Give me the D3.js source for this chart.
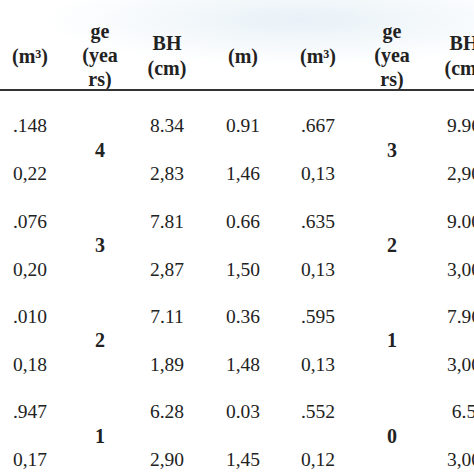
<!DOCTYPE html>
<html><head><meta charset="utf-8">
<script src="https://cdn.jsdelivr.net/npm/d3@7"></script>
<style>body{margin:0;background:#fff}</style></head>
<body><script>
const headers=[["(m³)"],["ge","(yea","rs)"],["BH","(cm)"],["(m)"],["(m³)"],["ge","(yea","rs)"],["BH","(cm)"]];
const colX=[30,100,167,243,318,392,464];
const rowsTop=[[".148","","8.34","0.91",".667","","9.96"],[".076","","7.81","0.66",".635","","9.00"],[".010","","7.11","0.36",".595","","7.96"],[".947","","6.28","0.03",".552","","6.5"]];
const rowsBot=[["0,22","","2,83","1,46","0,13","","2,90"],["0,20","","2,87","1,50","0,13","","3,00"],["0,18","","1,89","1,48","0,13","","3,00"],["0,17","","2,90","1,45","0,12","","3,00"]];
const agesL=["4","3","2","1"], agesR=["3","2","1","0"];
const W=474,H=474;
const svg=d3.select("body").append("svg").attr("width",W).attr("height",H);
const defs=svg.append("defs");
const g=defs.append("radialGradient").attr("id","sw").attr("cx","0.5").attr("cy","0.5").attr("r","0.5");
g.append("stop").attr("offset","0").attr("stop-color","#e8f1f7");
g.append("stop").attr("offset","1").attr("stop-color","#ffffff");
svg.append("ellipse").attr("cx",300).attr("cy",20).attr("rx",260).attr("ry",45).attr("fill","url(#sw)");
const y=d3.scaleLinear().domain([0,3]).range([128,414]);
const font="'Liberation Serif','Times New Roman',serif";
headers.forEach((h,i)=>{
  const n=h.length; const start = n===3? 33 : n===2? 45 : 58;
  h.forEach((t,j)=>svg.append("text").attr("x",colX[i]).attr("y",start+j*(n===3?24:25)).attr("text-anchor","middle")
    .attr("dominant-baseline","middle").attr("font-family",font).attr("font-weight","bold").attr("font-size",20).attr("fill","#222").text(t));
});
svg.append("line").attr("x1",0).attr("x2",W).attr("y1",90).attr("y2",90).attr("stroke","#333").attr("stroke-width",2);
for(let r=0;r<4;r++){
  const yt=y(r), yb=y(r)+48, ym=y(r)+24;
  rowsTop[r].forEach((t,i)=>{ if(t) svg.append("text").attr("x",colX[i]).attr("y",yt).attr("text-anchor","middle").attr("dominant-baseline","middle").attr("font-family",font).attr("font-size",19.5).attr("fill","#222").text(t);});
  rowsBot[r].forEach((t,i)=>{ if(t) svg.append("text").attr("x",colX[i]).attr("y",yb).attr("text-anchor","middle").attr("dominant-baseline","middle").attr("font-family",font).attr("font-size",19.5).attr("fill","#222").text(t);});
  [[1,agesL[r]],[5,agesR[r]]].forEach(([c,t])=>svg.append("text").attr("x",colX[c]).attr("y",ym).attr("text-anchor","middle").attr("dominant-baseline","middle").attr("font-family",font).attr("font-weight","bold").attr("font-size",20).attr("fill","#222").text(t));
}
</script></body></html>
